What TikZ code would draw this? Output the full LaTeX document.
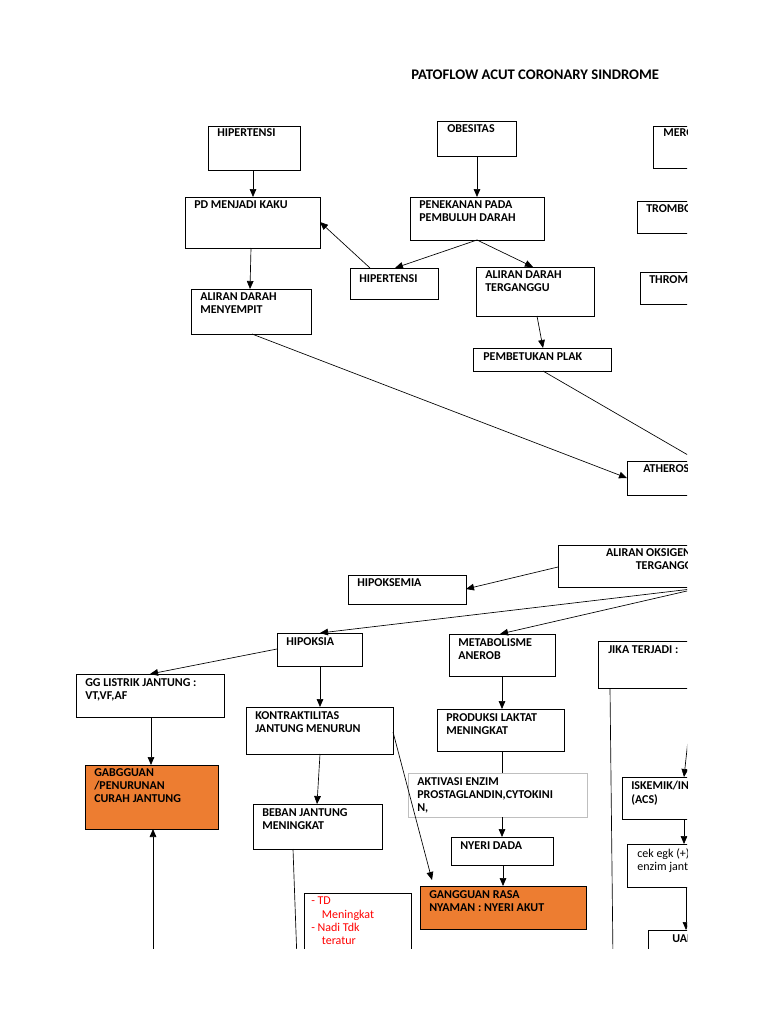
\documentclass[tikz,border=0pt]{standalone}
\usepackage{fontspec}
\setmainfont{Carlito}
\usetikzlibrary{arrows.meta}
\definecolor{org}{HTML}{ED7D31}
\begin{document}
\begin{tikzpicture}[x=0.75pt,y=-0.75pt,
  bx/.style={draw,line width=0.6pt,inner sep=0pt},
  t/.style={anchor=north west,font=\fontsize{9}{10}\selectfont\bfseries,align=left,inner sep=0pt},
  ar/.style={-{Triangle[length=6pt,width=5pt]},line width=0.5pt},
  ln/.style={line width=0.5pt}]
\useasboundingbox (0,0) rectangle (768,1024);
\begin{scope}
\clip (0,0) rectangle (687,948);
\node[t,font=\fontsize{11}{12}\selectfont\bfseries] (title) at (411,70) {PATOFLOW ACUT CORONARY SINDROME};
\newcommand\bxx[6]{\draw[bx,#6] (#2,#3) rectangle (#4,#5); \coordinate (#1) at (#2,#3);}
% boxes
\draw[bx] (208,126) rectangle (300,170) node[pos=0,name=hip1]{}; \node[t] at (217,128){HIPERTENSI};
\draw[bx] (437,121) rectangle (516,156); \node[t] at (447,124){OBESITAS};
\draw[bx] (653,126) rectangle (760,168); \node[t] at (663,128){MEROKOK};
\draw[bx] (185,197) rectangle (320,248); \node[t] at (194,200){PD MENJADI KAKU};
\draw[bx] (410,197) rectangle (544,240); \node[t] at (419,200){PENEKANAN PADA\\PEMBULUH DARAH};
\draw[bx] (637,201) rectangle (760,233); \node[t] at (646,204){TROMBOSIT};
\draw[bx] (350,268) rectangle (438,299); \node[t] at (359,274){HIPERTENSI};
\draw[bx] (476,267) rectangle (594,316); \node[t] at (485,270){ALIRAN DARAH\\TERGANGGU};
\draw[bx] (640,272) rectangle (760,304); \node[t] at (649,275){THROMBUS};
\draw[bx] (191,289) rectangle (311,334); \node[t] at (200,292){ALIRAN DARAH\\MENYEMPIT};
\draw[bx] (473,348) rectangle (611,371); \node[t] at (483,352){PEMBETUKAN PLAK};
\draw[bx] (627,461) rectangle (760,495); \node[t] at (643,464){ATHEROSKLEROSIS};
\draw[bx] (558,545) rectangle (760,587); \node[t,align=center,anchor=north] at (668,548){ALIRAN OKSIGEN DARAH\\TERGANGGU};
\draw[bx] (348,575) rectangle (466,604); \node[t] at (357,578){HIPOKSEMIA};
\draw[bx] (277,633) rectangle (362,666); \node[t] at (286,637){HIPOKSIA};
\draw[bx] (449,634) rectangle (555,676); \node[t] at (458,638){METABOLISME\\ANEROB};
\draw[bx] (598,641) rectangle (760,688); \node[t] at (608,645){JIKA TERJADI :};
\draw[bx] (76,674) rectangle (224,717); \node[t] at (85,678){GG LISTRIK JANTUNG :\\VT,VF,AF};
\draw[bx] (246,707) rectangle (393,754); \node[t] at (255,711){KONTRAKTILITAS\\JANTUNG MENURUN};
\draw[bx] (437,709) rectangle (564,751); \node[t] at (446,713){PRODUKSI LAKTAT\\MENINGKAT};
\draw[bx,fill=org] (85,765) rectangle (218,829); \node[t] at (94,768){GABGGUAN\\/PENURUNAN\\CURAH JANTUNG};
\draw[line width=0.6pt,draw=gray!50] (408,773) rectangle (587,817); \node[t] at (417,777){AKTIVASI ENZIM\\PROSTAGLANDIN,CYTOKINI\\N,};
\draw[bx] (622,777) rectangle (760,819); \node[t] at (631,781){ISKEMIK/INFARK\\(ACS)};
\draw[bx] (253,804) rectangle (382,849); \node[t] at (262,808){BEBAN JANTUNG\\MENINGKAT};
\draw[bx] (451,837) rectangle (553,865); \node[t] at (460,841){NYERI DADA};
\draw[bx] (627,844) rectangle (760,887); \node[t,font=\fontsize{9}{10}\selectfont] at (637,848){cek egk (+)\\enzim jantung};
\draw[bx] (304,893) rectangle (411,990); \node[t,font=\fontsize{9}{10}\selectfont,text=red] at (311,897){- TD\\\hspace*{8pt}Meningkat\\- Nadi Tdk\\\hspace*{8pt}teratur};
\draw[bx,fill=org] (420,886) rectangle (586,929); \node[t] at (429,890){GANGGUAN RASA\\NYAMAN : NYERI AKUT};
\draw[bx] (648,930) rectangle (760,990); \node[t] at (672,934){UAP};
% connectors
\draw[ar] (253,170) -- (253,197);
\draw[ar] (477,156) -- (477,197);
\draw[ar] (251,248) -- (250,289);
\draw[ar] (477,240) -- (395,268);
\draw[ar] (370,268) -- (320,222);
\draw[ar] (477,240) -- (533,267);
\draw[ar] (537,316) -- (543,348);
\draw[ar] (252,334) -- (627,478);
\draw[ln] (543,371) -- (700,462);
\draw[ar] (558,567) -- (466,589);
\draw[ar] (700,588) -- (320,633);
\draw[ar] (700,588) -- (500,634);
\draw[ar] (277,649) -- (150,674);
\draw[ar] (320,666) -- (320,707);
\draw[ar] (502,676) -- (502,709);
\draw[ln] (502,751) -- (502,773);
\draw[ar] (502,817) -- (502,837);
\draw[ar] (503,865) -- (503,886);
\draw[ar] (393,732) -- (432,880);
\draw[ar] (320,754) -- (317,804);
\draw[ar] (151,717) -- (151,765);
\draw[ar] (153,960) -- (153,829);
\draw[ln] (293,849) -- (297,960);
\draw[ln] (610,688) -- (613,960);
\draw[ar] (688,740) -- (684,777);
\draw[ar] (684,819) -- (684,844);
\draw[ar] (686,887) -- (686,930);
\end{scope}
\end{tikzpicture}
\end{document}
